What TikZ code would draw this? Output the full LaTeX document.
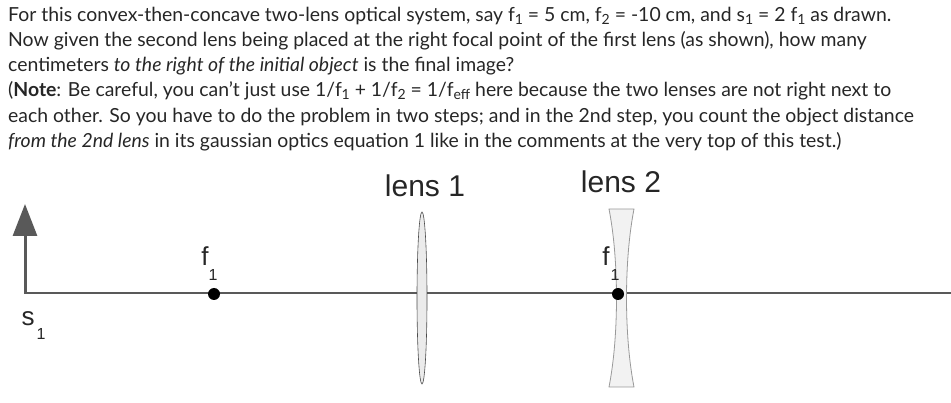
\documentclass[tikz,border=0pt]{standalone}
\usepackage{fontspec}
\usetikzlibrary{arrows.meta,shapes.geometric}
\setmainfont{Lato}
\newfontfamily\arialf{Liberation Sans}
\newcommand{\sbs}[1]{\raisebox{-0.3ex}{\fontsize{14}{16}\selectfont #1}}
\begin{document}
\begin{tikzpicture}[x=1pt,y=-1pt,
  txt/.style={anchor=base west,inner sep=0pt,font=\fontsize{19.4}{22}\selectfont,text=black!85},
  lbl/.style={inner sep=0pt,font=\arialf\fontsize{30}{34}\selectfont,text=black!85},
  sml/.style={inner sep=0pt,font=\arialf\fontsize{26}{30}\selectfont,text=black!85},
  sub/.style={inner sep=0pt,font=\arialf\fontsize{16}{18}\selectfont,text=black!85},
  axis/.style={draw=black!65,line width=2pt},
  dot/.style={circle,fill=black,minimum size=12pt,inner sep=0pt}]
\useasboundingbox (0,0) rectangle (951,403);
\node[txt] (l1) at (8,22) {For this convex-then-concave two-lens optical system, say f\sbs{1} = 5 cm, f\sbs{2} = -10 cm, and s\sbs{1} = 2 f\sbs{1} as drawn.};
\node[txt] (l2) at (8,47) {Now given the second lens being placed at the right focal point of the first lens (as shown), how many};
\node[txt] (l3) at (8,72) {centimeters \emph{to the right of the initial object} is the final image?};
\node[txt] (l4) at (8,97) {(\textbf{Note}: Be careful, you can't just use 1/f\sbs{1} + 1/f\sbs{2} = 1/f\sbs{eff} here because the two lenses are not right next to};
\node[txt] (l5) at (8,123) {each other. So you have to do the problem in two steps; and in the 2nd step, you count the object distance};
\node[txt] (l6) at (8,148) {\emph{from the 2nd lens} in its gaussian optics equation 1 like in the comments at the very top of this test.)};
\coordinate (a0) at (25,293);
\coordinate (a1) at (951,293);
\draw[axis] (a0) -- (a1);
\coordinate (ob) at (25,294);
\coordinate (ot) at (25,204);
\draw[black!65,line width=3pt,-{Triangle[length=32pt,width=24pt]}] (ob) -- (ot);
% lens 1
\node[draw=black!70,fill=black!8,ellipse,minimum width=10pt,minimum height=172pt,inner sep=0pt,line width=0.6pt] (lens1) at (422,298) {};
% lens 2
\path[draw=black!40,fill=black!5,line width=0.8pt] (609,209) -- (634,209) .. controls (624,260) and (624,336) .. (634,387) -- (609,387) .. controls (619,336) and (619,260) .. (609,209) -- cycle;
\node[dot] (d1) at (214,294) {};
\node[dot] (d2) at (618,294) {};
\node[lbl] (t1) at (425,186) {lens 1};
\node[lbl] (t2) at (621,182) {lens 2};
\node[sml,anchor=base] (f1) at (205,266) {f};
\node[sub] (f1s) at (213,275) {1};
\node[sml,anchor=base] (f2) at (606,266) {f};
\node[sub] (f2s) at (615,275) {1};
\node[sml,anchor=base] (s1) at (28,326) {s};
\node[sub] (s1s) at (41,334) {1};
\end{tikzpicture}
\end{document}
